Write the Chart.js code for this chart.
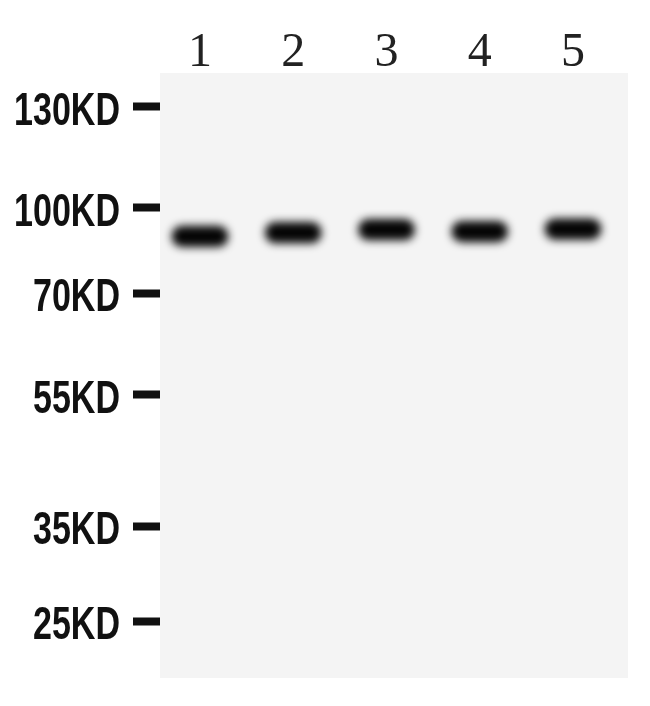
<!DOCTYPE html>
<html>
<head>
<meta charset="utf-8">
<script src="https://cdn.jsdelivr.net/npm/chart.js@4.4.1/dist/chart.umd.min.js"></script>
<style>
  html, body { margin: 0; padding: 0; background: #fff; }
  #wrap { position: relative; width: 650px; height: 706px; }
</style>
</head>
<body>
<div id="wrap"><canvas id="blot"></canvas></div>
<script>
/* ─── Western blot · lanes 1–5, markers 25–130 kDa ─── */

// lanes (x) and their labels
const LANES       = [1, 2, 3, 4, 5];
const LANE_LABELS = ['1', '2', '3', '4', '5'];

// marker ladder: migration distance (% of blot height, from top)
const MARKER_LABELS = ['130KD', '100KD', '70KD', '55KD', '35KD', '25KD'];
const MARKER_POS    = [5.6, 22.3, 36.4, 53.2, 75.0, 90.7];

// band per lane: centre migration and thickness (same units)
const BAND_POS   = [27.0, 26.4, 25.9, 26.2, 25.8];
const BAND_THICK = [3.4, 3.4, 3.4, 3.4, 3.4];

const BLOT_BG = '#f4f4f4';
const LABEL_SQUEEZE = 0.74;   // marker font is a condensed bold sans
const LABEL_DROP = 5;         // marker text sits a little below its dash

const bandData = LANES.map((x, i) => ({
  x,
  y: [BAND_POS[i] - BAND_THICK[i] / 2, BAND_POS[i] + BAND_THICK[i] / 2],
}));

/* blot membrane, blurred bands, condensed marker labels */
const blotPlugin = {
  id: 'blot',
  afterLayout(chart) {
    const s = chart.scales.y;
    if (s._squeezed) return;
    s._squeezed = true;
    s._computeLabelArea = () => undefined;   // no clip, the transform would shrink it
    const orig = s.drawLabels.bind(s);
    s.drawLabels = area => {
      const ctx = s.ctx;
      const rx = s.right - s.options.grid.tickLength - s.options.ticks.padding;
      ctx.save();
      ctx.translate(rx, LABEL_DROP);
      ctx.scale(LABEL_SQUEEZE, 1);
      ctx.translate(-rx, 0);
      orig(area);
      ctx.restore();
    };
  },
  beforeDraw(chart) {
    const { ctx, chartArea: a } = chart;
    ctx.save();
    ctx.fillStyle = BLOT_BG;
    ctx.fillRect(a.left, a.top, a.right - a.left, a.bottom - a.top);
    ctx.restore();
  },
  beforeDatasetsDraw(chart) {
    chart.ctx.save();
    chart.ctx.filter = 'blur(4px)';
  },
  afterDatasetsDraw(chart) {
    chart.ctx.restore();
  },
};

new Chart(document.getElementById('blot'), {
  type: 'bar',
  data: {
    datasets: [{
      data: bandData,
      backgroundColor: '#050505',
      barThickness: 56,
      borderRadius: 11,
      borderSkipped: false,
    }],
  },
  options: {
    responsive: true,
    maintainAspectRatio: false,
    animation: false,
    devicePixelRatio: 1,
    layout: { padding: { left: 0, top: 0, right: 22, bottom: 28 } },
    plugins: { legend: { display: false }, tooltip: { enabled: false } },
    scales: {
      x: {
        type: 'linear',
        position: 'top',
        offset: false,
        min: 0.571,
        max: 5.59,
        afterBuildTicks: s => { s.ticks = LANES.map(v => ({ value: v })); },
        afterFit: s => { s.height = 73; s.paddingLeft = 0; s.paddingRight = 0; },
        grid: { display: false },
        border: { display: false },
        ticks: {
          autoSkip: false,
          maxRotation: 0,
          padding: -17,
          color: '#222',
          font: { family: "'Liberation Serif', 'DejaVu Serif', serif", size: 48 },
          callback: v => LANE_LABELS[LANES.indexOf(v)] ?? '',
        },
      },
      y: {
        type: 'linear',
        reverse: true,
        min: 0,
        max: 100,
        afterBuildTicks: s => { s.ticks = MARKER_POS.map(v => ({ value: v })); },
        afterFit: s => { s.width = 160; s.paddingTop = 0; s.paddingBottom = 0; },
        border: { display: false },
        grid: {
          drawOnChartArea: false,
          drawTicks: true,
          tickLength: 27,
          tickWidth: 8,
          tickColor: '#111',
        },
        ticks: {
          autoSkip: false,
          padding: 13,
          color: '#111',
          font: { family: "'Liberation Sans', Arial, sans-serif", size: 46, weight: 'bold' },
          callback: v => MARKER_LABELS[MARKER_POS.indexOf(v)] ?? '',
        },
      },
    },
  },
  plugins: [blotPlugin],
});
</script>
</body>
</html>
